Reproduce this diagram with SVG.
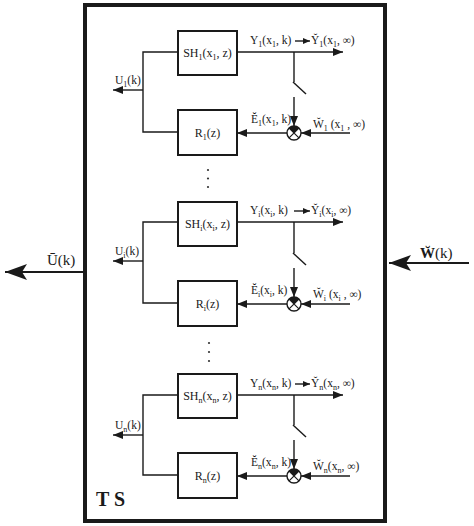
<svg xmlns="http://www.w3.org/2000/svg" width="474" height="526" viewBox="0 0 474 526">
<defs>
<style>
.box{fill:#fff;stroke:#1a1a1a;stroke-width:2}
.ln{fill:none;stroke:#1a1a1a;stroke-width:1.4}
.ext{fill:none;stroke:#1a1a1a;stroke-width:2}
.t{font-family:"Liberation Serif","DejaVu Serif",serif;font-size:11.5px;fill:#1a1a1a}
.tb{font-family:"Liberation Serif","DejaVu Serif",serif;font-size:12px;fill:#1a1a1a}
.s{font-size:8px}
.big{font-family:"Liberation Serif","DejaVu Serif",serif;font-size:15px;fill:#1a1a1a}
.ts{font-family:"Liberation Serif","DejaVu Serif",serif;font-size:20px;font-weight:bold;fill:#1a1a1a}
.dot{fill:#333}
</style>
<marker id="ah" viewBox="0 0 10 8" refX="10" refY="4" markerWidth="10" markerHeight="8" orient="auto" markerUnits="userSpaceOnUse"><path d="M0,0 L10,4 L0,8 Z" fill="#1a1a1a"/></marker>
<marker id="ahs" viewBox="0 0 7 6" refX="7" refY="3" markerWidth="7" markerHeight="6" orient="auto" markerUnits="userSpaceOnUse"><path d="M0,0 L7,3 L0,6 Z" fill="#1a1a1a"/></marker>
<marker id="ahL" viewBox="0 0 22 16" refX="22" refY="8" markerWidth="22" markerHeight="16" orient="auto" markerUnits="userSpaceOnUse"><path d="M0,0 L22,8 L0,16 L5,8 Z" fill="#1a1a1a"/></marker>
<g id="sumShape">
<circle cx="0" cy="0" r="7" fill="#fff" stroke="#1a1a1a" stroke-width="1.4"/>
<path d="M-4.95,-4.95 A7,7 0 0 1 4.95,-4.95 L0,0 Z" fill="#1a1a1a"/>
<path d="M-4.95,-4.95 L4.95,4.95 M4.95,-4.95 L-4.95,4.95" stroke="#1a1a1a" stroke-width="1.2"/>
</g>
</defs>
<rect width="474" height="526" fill="#fff"/>

<g id="ts-box">
<rect x="85" y="5" width="300" height="516" fill="none" stroke="#1a1a1a" stroke-width="4"/>
<text class="ts" x="96" y="506">T S</text>
</g>

<!-- Block 1 -->
<g id="sh1"><rect class="box" x="178" y="31" width="59" height="44"/>
<text class="tb" x="207.5" y="57" text-anchor="middle">SH<tspan class="s" dy="2.5">1</tspan><tspan dy="-2.5">(x</tspan><tspan class="s" dy="2.5">1</tspan><tspan dy="-2.5">, z)</tspan></text></g>
<g id="r1"><rect class="box" x="178" y="110" width="59" height="45"/>
<text class="tb" x="207.5" y="137" text-anchor="middle">R<tspan class="s" dy="2.5">1</tspan><tspan dy="-2.5">(z)</tspan></text></g>
<g id="sum1"><use href="#sumShape" x="294" y="133"/></g>

<!-- Block i -->
<g id="shi"><rect class="box" x="178" y="202" width="59" height="44"/>
<text class="tb" x="207.5" y="228" text-anchor="middle">SH<tspan class="s" dy="2.5">i</tspan><tspan dy="-2.5">(x</tspan><tspan class="s" dy="2.5">i</tspan><tspan dy="-2.5">, z)</tspan></text></g>
<g id="ri"><rect class="box" x="178" y="281" width="59" height="45"/>
<text class="tb" x="207.5" y="308" text-anchor="middle">R<tspan class="s" dy="2.5">i</tspan><tspan dy="-2.5">(z)</tspan></text></g>
<g id="sumi"><use href="#sumShape" x="294" y="304"/></g>

<!-- Block n -->
<g id="shn"><rect class="box" x="178" y="374" width="59" height="44"/>
<text class="tb" x="207.5" y="400" text-anchor="middle">SH<tspan class="s" dy="2.5">n</tspan><tspan dy="-2.5">(x</tspan><tspan class="s" dy="2.5">n</tspan><tspan dy="-2.5">, z)</tspan></text></g>
<g id="rn"><rect class="box" x="178" y="453" width="59" height="45"/>
<text class="tb" x="207.5" y="480" text-anchor="middle">R<tspan class="s" dy="2.5">n</tspan><tspan dy="-2.5">(z)</tspan></text></g>
<g id="sumn"><use href="#sumShape" x="294" y="476"/></g>

<g id="dots">
<circle class="dot" cx="208" cy="170" r="1.1"/><circle class="dot" cx="208" cy="178.5" r="1.1"/><circle class="dot" cx="208" cy="187" r="1.1"/>
<circle class="dot" cx="209" cy="343" r="1.1"/><circle class="dot" cx="209" cy="352" r="1.1"/><circle class="dot" cx="209" cy="361" r="1.1"/>
</g>

<g id="connectors">
<!-- block 1 -->
<g>
<path class="ln" d="M178,52 H143 V132 H178"/>
<line class="ln" x1="143" y1="90" x2="113" y2="90" marker-end="url(#ah)"/>
<line class="ln" x1="237" y1="52" x2="343" y2="52" marker-end="url(#ah)"/>
<line class="ln" x1="294" y1="52" x2="294" y2="82"/>
<line class="ln" x1="293" y1="82" x2="306" y2="94"/>
<line class="ln" x1="294" y1="97" x2="294" y2="126" marker-end="url(#ah)"/>
<line class="ln" x1="350" y1="133" x2="301" y2="133" marker-end="url(#ah)"/>
<line class="ln" x1="287" y1="133" x2="237" y2="133" marker-end="url(#ah)"/>
<line class="ln" x1="295" y1="41" x2="310" y2="41" stroke-width="1" marker-end="url(#ahs)"/>
</g>
<!-- block i -->
<g>
<path class="ln" d="M178,222 H143 V303 H178"/>
<line class="ln" x1="143" y1="261" x2="113" y2="261" marker-end="url(#ah)"/>
<line class="ln" x1="237" y1="222" x2="343" y2="222" marker-end="url(#ah)"/>
<line class="ln" x1="294" y1="222" x2="294" y2="253"/>
<line class="ln" x1="293" y1="253" x2="306" y2="265"/>
<line class="ln" x1="294" y1="268" x2="294" y2="297" marker-end="url(#ah)"/>
<line class="ln" x1="350" y1="304" x2="301" y2="304" marker-end="url(#ah)"/>
<line class="ln" x1="287" y1="304" x2="237" y2="304" marker-end="url(#ah)"/>
<line class="ln" x1="294" y1="211" x2="310" y2="211" stroke-width="1" marker-end="url(#ahs)"/>
</g>
<!-- block n -->
<g>
<path class="ln" d="M178,395 H143 V475 H178"/>
<line class="ln" x1="143" y1="435" x2="113" y2="435" marker-end="url(#ah)"/>
<line class="ln" x1="237" y1="395" x2="343" y2="395" marker-end="url(#ah)"/>
<line class="ln" x1="294" y1="395" x2="294" y2="425"/>
<line class="ln" x1="293" y1="425" x2="306" y2="437"/>
<line class="ln" x1="294" y1="440" x2="294" y2="469" marker-end="url(#ah)"/>
<line class="ln" x1="350" y1="476" x2="301" y2="476" marker-end="url(#ah)"/>
<line class="ln" x1="287" y1="476" x2="237" y2="476" marker-end="url(#ah)"/>
<line class="ln" x1="295" y1="384" x2="310" y2="384" stroke-width="1" marker-end="url(#ahs)"/>
</g>
<!-- external -->
<line class="ext" x1="85" y1="272" x2="5" y2="272" marker-end="url(#ahL)"/>
<line class="ext" x1="469" y1="263" x2="389" y2="263" marker-end="url(#ahL)"/>
</g>

<g id="labels">
<!-- block 1 -->
<text class="t" x="115" y="84">U<tspan class="s" dy="2.5">1</tspan><tspan dy="-2.5">(k)</tspan></text>
<text class="t" x="250" y="44">Y<tspan class="s" dy="2.5">1</tspan><tspan dy="-2.5">(x</tspan><tspan class="s" dy="2.5">1</tspan><tspan dy="-2.5">, k)</tspan></text>
<text class="t" x="311" y="44">Y&#x306;<tspan class="s" dy="2.5">1</tspan><tspan dy="-2.5">(x</tspan><tspan class="s" dy="2.5">1</tspan><tspan dy="-2.5">, ∞)</tspan></text>
<text class="t" x="251" y="123">Ĕ<tspan class="s" dy="2.5">1</tspan><tspan dy="-2.5">(x</tspan><tspan class="s" dy="2.5">1</tspan><tspan dy="-2.5">, k)</tspan></text>
<text class="t" x="313" y="128">W&#x306;<tspan class="s" dy="2.5">1</tspan><tspan dy="-2.5"> (x</tspan><tspan class="s" dy="2.5">1</tspan><tspan dy="-2.5"> , ∞)</tspan></text>
<!-- block i -->
<text class="t" x="115" y="255">U<tspan class="s" dy="2.5">i</tspan><tspan dy="-2.5">(k)</tspan></text>
<text class="t" x="250" y="214">Y<tspan class="s" dy="2.5">i</tspan><tspan dy="-2.5">(x</tspan><tspan class="s" dy="2.5">i</tspan><tspan dy="-2.5">, k)</tspan></text>
<text class="t" x="311" y="214">Y&#x306;<tspan class="s" dy="2.5">i</tspan><tspan dy="-2.5">(x</tspan><tspan class="s" dy="2.5">i</tspan><tspan dy="-2.5">, ∞)</tspan></text>
<text class="t" x="251" y="294">Ĕ<tspan class="s" dy="2.5">i</tspan><tspan dy="-2.5">(x</tspan><tspan class="s" dy="2.5">i</tspan><tspan dy="-2.5">, k)</tspan></text>
<text class="t" x="313" y="298">W&#x306;<tspan class="s" dy="2.5">i</tspan><tspan dy="-2.5"> (x</tspan><tspan class="s" dy="2.5">i</tspan><tspan dy="-2.5"> , ∞)</tspan></text>
<!-- block n -->
<text class="t" x="115" y="429">U<tspan class="s" dy="2.5">n</tspan><tspan dy="-2.5">(k)</tspan></text>
<text class="t" x="250" y="387">Y<tspan class="s" dy="2.5">n</tspan><tspan dy="-2.5">(x</tspan><tspan class="s" dy="2.5">n</tspan><tspan dy="-2.5">, k)</tspan></text>
<text class="t" x="311" y="387">Y&#x306;<tspan class="s" dy="2.5">n</tspan><tspan dy="-2.5">(x</tspan><tspan class="s" dy="2.5">n</tspan><tspan dy="-2.5">, ∞)</tspan></text>
<text class="t" x="251" y="466">Ĕ<tspan class="s" dy="2.5">n</tspan><tspan dy="-2.5">(x</tspan><tspan class="s" dy="2.5">n</tspan><tspan dy="-2.5">, k)</tspan></text>
<text class="t" x="313" y="470">W&#x306;<tspan class="s" dy="2.5">n</tspan><tspan dy="-2.5">(x</tspan><tspan class="s" dy="2.5">n</tspan><tspan dy="-2.5">, ∞)</tspan></text>
<!-- external -->
<text class="big" x="47" y="265">Ū(k)</text>
<text class="big" x="420" y="258"><tspan font-weight="bold">W&#x306;</tspan>(k)</text>
</g>
</svg>
